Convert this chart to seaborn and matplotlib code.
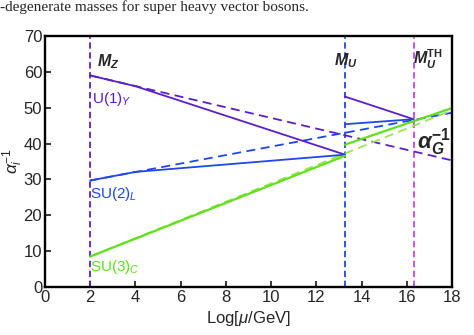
import numpy as np
import pandas as pd
import matplotlib
matplotlib.use("Agg")
import matplotlib.pyplot as plt
import seaborn as sns

# Scales (log10 of mu / GeV)
M_Z = 2.0
M_U = 13.27
M_TH = 16.3

# One-loop running without heavy vector bosons (dashed)
x_sm = [2.0, 18.0]
u1_sm = [59.0, 35.3]
su2_sm = [29.7, 48.6]
su3_sm = [8.5, 49.3]

# Running with threshold effects, below M_U (solid)
x_low = [2.0, 4.0, 13.27]
u1_low = [59.0, 56.0, 36.9]
su2_low = [29.7, 32.1, 36.9]
x_low3 = [2.0, 13.27]
su3_low = [8.5, 36.6]

# Running between M_U and M_U^TH (solid)
x_high = [13.27, 16.3]
u1_high = [53.1, 46.8]
su2_high = [45.4, 46.8]
x_high3 = [13.27, 18.0]
su3_high = [39.7, 49.9]

xticks = [0, 2, 4, 6, 8, 10, 12, 14, 16, 18]
yticks = [0, 10, 20, 30, 40, 50, 60, 70]

PURPLE = "#5b1fc8"
BLUE = "#1f47e6"
GREEN = "#5fe01a"
LGREEN = "#9be658"
VIOLET = "#c246e8"

sns.set_style("ticks")
plt.rcParams["font.family"] = ["Liberation Sans", "DejaVu Sans"]
plt.rcParams["mathtext.fontset"] = "custom"
plt.rcParams["mathtext.rm"] = "Liberation Sans"
plt.rcParams["mathtext.it"] = "Liberation Sans:italic"
plt.rcParams["mathtext.bf"] = "Liberation Sans:bold"
plt.rcParams["mathtext.bfit"] = "Liberation Sans:bold:italic"

fig = plt.figure(figsize=(4.74, 3.35), dpi=100)
ax = fig.add_axes([45 / 474, 1 - 287 / 335, 407 / 474, 251 / 335])

lw = 1.3
dash = (5, 3)

# Reference scales
ax.axvline(M_Z, color=PURPLE, lw=1.3, dashes=(3.5, 2), zorder=1)
ax.axvline(M_U, color=BLUE, lw=1.3, dashes=(3.5, 2), zorder=1)
ax.axvline(M_TH, color=VIOLET, lw=1.3, dashes=(3.5, 2), zorder=1)

# Dashed: running without heavy states
sns.lineplot(x=x_sm, y=u1_sm, ax=ax, color=PURPLE, lw=lw, linestyle=(0, dash), sort=False)
sns.lineplot(x=x_sm, y=su2_sm, ax=ax, color=BLUE, lw=lw, linestyle=(0, dash), sort=False)
sns.lineplot(x=x_sm, y=su3_sm, ax=ax, color=LGREEN, lw=lw, linestyle=(0, dash), sort=False)

# Solid: running with thresholds
sns.lineplot(x=x_low, y=u1_low, ax=ax, color=PURPLE, lw=lw, sort=False)
sns.lineplot(x=x_low, y=su2_low, ax=ax, color=BLUE, lw=lw, sort=False)
sns.lineplot(x=x_low3, y=su3_low, ax=ax, color=GREEN, lw=lw + 0.3, sort=False)
sns.lineplot(x=x_high, y=u1_high, ax=ax, color=PURPLE, lw=lw, sort=False)
sns.lineplot(x=x_high, y=su2_high, ax=ax, color=BLUE, lw=lw, sort=False)
sns.lineplot(x=x_high3, y=su3_high, ax=ax, color=GREEN, lw=lw + 0.3, sort=False)

ax.set_xlim(0, 18)
ax.set_ylim(0, 70)
ax.set_xticks(xticks)
ax.set_yticks(yticks)
ax.tick_params(direction="in", length=4, width=1.3, labelsize=12,
               top=False, right=False, pad=2)
for sp in ax.spines.values():
    sp.set_linewidth(1.7)
    sp.set_color("black")

ax.set_xlabel(r"Log[$\mu$/GeV]", fontsize=12, labelpad=3)
ax.set_ylabel(r"$\alpha_i^{-1}$", fontsize=12.5)
ax.yaxis.set_label_coords(-0.05, 0.5)

# Scale labels
ax.text(2.3, 62.8, r"$\mathbfit{M}_{\mathbfit{Z}}$", fontsize=11.5, va="center", ha="left")
ax.text(13.3, 63.0, r"$\mathbfit{M}_{\mathbfit{U}}$", fontsize=11.5, va="center", ha="center")
ax.text(16.95, 63.5, r"$\mathbfit{M}_{\mathbfit{U}}^{\mathbf{TH}}$", fontsize=11.5,
        va="center", ha="center")

# Gauge group labels
ax.text(2.1, 52.3, r"U(1)$_Y$", color=PURPLE, fontsize=11, va="center", ha="left")
ax.text(2.0, 26.0, r"SU(2)$_L$", color=BLUE, fontsize=11, va="center", ha="left")
ax.text(2.0, 5.6, r"SU(3)$_C$", color=GREEN, fontsize=11, va="center", ha="left")

ax.text(16.45, 40.5, r"$\mathbfit{\alpha}_{\mathbfit{G}}^{\mathbf{-1}}$", fontsize=16,
        va="center", ha="left")

fig.text(0.0, 1 - 11 / 335, "-degenerate masses for super heavy vector bosons.",
         family=["Liberation Serif", "DejaVu Serif"], fontsize=11, va="baseline", ha="left")

fig.savefig("out.png", dpi=100)
